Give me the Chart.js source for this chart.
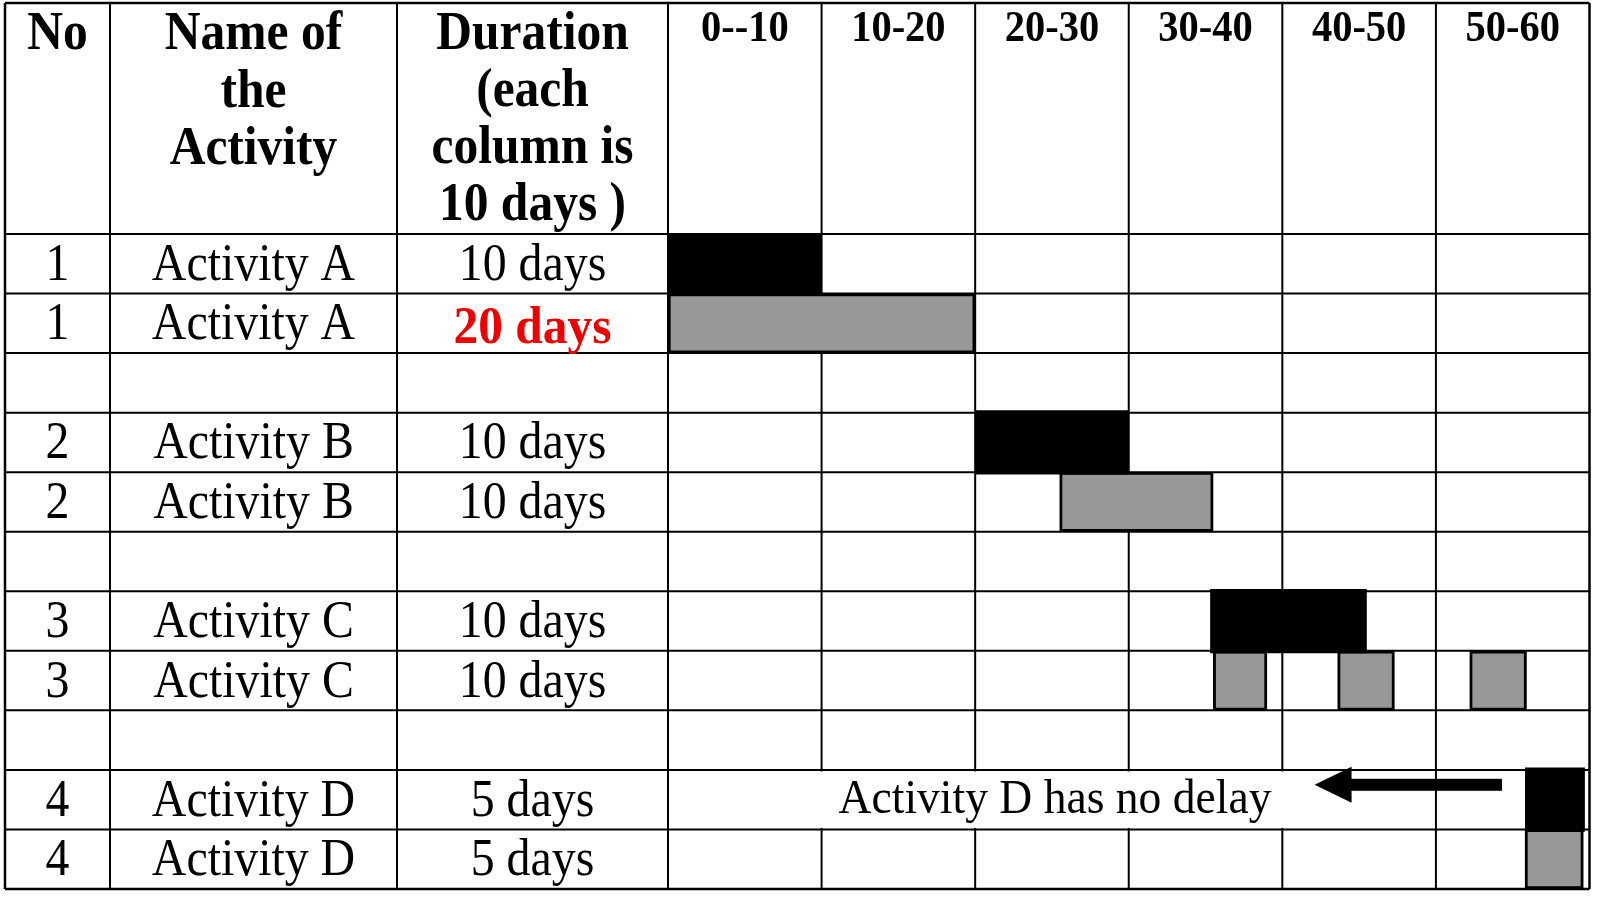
<!DOCTYPE html>
<html>
<head>
<meta charset="utf-8">
<title>Activity delay chart</title>
<script src="https://cdn.jsdelivr.net/npm/chart.js@4.4.0/dist/chart.umd.min.js"></script>
<style>
    html, body { margin: 0; padding: 0; background: #fff; }
    #ganttChart { display: block; }
</style>
</head>
<body>
<canvas id="ganttChart" width="1607" height="906"></canvas>
<script>
// Table rows (one entry per row, empty strings = spacer rows)
const rowNo = ['1', '1', '', '2', '2', '', '3', '3', '', '4', '4'];
const rowName = ['Activity A', 'Activity A', '', 'Activity B', 'Activity B', '', 'Activity C', 'Activity C', '', 'Activity D', 'Activity D'];
const rowDuration = ['10 days', '20 days', '', '10 days', '10 days', '', '10 days', '10 days', '', '5 days', '5 days'];
const delayedRow = 1;

// Time columns (each column is 10 days)
const periodLabels = ['0--10', '10-20', '20-30', '30-40', '40-50', '50-60'];
const periodTicks = [0, 10, 20, 30, 40, 50, 60];

// Planned (black) and actual (grey) spans in days
const planned = [[0, 10], null, null, [20, 30], null, null, [35.3, 45.5], null, null, [55.8, 59.7], null];
const actual = [null, [0, 20], null, null, [25.5, 35.5], null, null, [35.5, 39], null, null, [55.8, 59.6]];
const actualC2 = [null, null, null, null, null, null, null, [43.6, 47.3], null, null, null];
const actualC3 = [null, null, null, null, null, null, null, [52.2, 55.9], null, null, null];

// Note in the Activity D row
const noteText = 'Activity D has no delay';
const noteRow = 9;
const noteAt = 25.2;
const noteBoxTo = 50;
const arrowFrom = 54.3;
const arrowTo = 42.1;

const tableLeft = [5, 110, 397];
const tableTop = 3;
const serif = '"Liberation Serif", "Times New Roman", serif';

function drawText(ctx, txt, x, y, font, sx, color) {
    ctx.save();
    ctx.font = font;
    ctx.fillStyle = color || '#000';
    ctx.textAlign = 'center';
    ctx.textBaseline = 'alphabetic';
    ctx.translate(x, y);
    ctx.scale(sx, 1);
    ctx.fillText(txt, 0, 0);
    ctx.restore();
}

function line(ctx, x1, y1, x2, y2, w) {
    ctx.beginPath();
    ctx.lineWidth = w;
    ctx.moveTo(x1, y1);
    ctx.lineTo(x2, y2);
    ctx.stroke();
}

/**
 * Table grid, drawn under the bars
 */
const tableGrid = {
    id: 'tableGrid',
    beforeDatasetsDraw(chart) {
        const ctx = chart.ctx;
        const xs = chart.scales.x;
        const ys = chart.scales.y;
        const bottom = ys.getPixelForValue(rowNo.length - 0.5);
        const right = xs.getPixelForValue(60);

        ctx.save();
        ctx.strokeStyle = '#000';

        // horizontal lines
        line(ctx, tableLeft[0], tableTop, right, tableTop, 2.5);
        for (let i = 0; i <= rowNo.length; i++) {
            const y = ys.getPixelForValue(i - 0.5);
            line(ctx, tableLeft[0], y, right, y, i === rowNo.length ? 2.5 : 2);
        }

        // vertical lines
        tableLeft.forEach((x, i) => line(ctx, x, tableTop, x, bottom, i === 0 ? 2.5 : 2));
        periodTicks.forEach((t, i) => {
            const x = xs.getPixelForValue(t);
            line(ctx, x, tableTop, x, bottom, i === periodTicks.length - 1 ? 2.5 : 2);
        });

        // white box behind the note
        const top = ys.getPixelForValue(noteRow - 0.5);
        const bot = ys.getPixelForValue(noteRow + 0.5);
        ctx.fillStyle = '#fff';
        ctx.fillRect(xs.getPixelForValue(0) + 1.5, top + 1.5,
            xs.getPixelForValue(noteBoxTo) - xs.getPixelForValue(0) - 3, bot - top - 3);
        ctx.restore();
    },

    afterDatasetsDraw(chart) {
        const ctx = chart.ctx;
        const xs = chart.scales.x;
        const ys = chart.scales.y;
        const bold = s => 'bold ' + s + 'px ' + serif;
        const reg = s => s + 'px ' + serif;

        // header
        const c0 = (tableLeft[0] + tableLeft[1]) / 2;
        const c1 = (tableLeft[1] + tableLeft[2]) / 2;
        const c2 = (tableLeft[2] + xs.getPixelForValue(0)) / 2;
        drawText(ctx, 'No', c0, 49, bold(55), 0.9);
        ['Name of', 'the', 'Activity'].forEach((t, i) => drawText(ctx, t, c1, 49 + i * 57.5, bold(55), 0.9));
        ['Duration', '(each', 'column is', '10 days )'].forEach((t, i) => drawText(ctx, t, c2, 48.5 + i * 57.2, bold(55), 0.9));
        periodLabels.forEach((t, i) => {
            const x = xs.getPixelForValue((periodTicks[i] + periodTicks[i + 1]) / 2);
            drawText(ctx, t, x, 41, bold(45), 0.9);
        });

        // row texts
        rowNo.forEach((no, i) => {
            const y = ys.getPixelForValue(i);
            drawText(ctx, no, c0, y + 16, reg(52), 0.92);
            drawText(ctx, rowName[i], c1, y + 16, reg(52), 0.92);
            if (i === delayedRow) {
                drawText(ctx, rowDuration[i], c2, y + 20, bold(52), 0.95, '#f00000');
            } else {
                drawText(ctx, rowDuration[i], c2, y + 16, reg(52), 0.92);
            }
        });

        // note + arrow
        const ny = ys.getPixelForValue(noteRow);
        drawText(ctx, noteText, xs.getPixelForValue(noteAt), ny + 13, reg(49), 0.93);

        const ay = ys.getPixelForValue(noteRow - 0.25);
        const tip = xs.getPixelForValue(arrowTo);
        const tail = xs.getPixelForValue(arrowFrom);
        ctx.save();
        ctx.fillStyle = '#000';
        ctx.fillRect(tip + 36, ay - 6, tail - tip - 36, 12);
        ctx.beginPath();
        ctx.moveTo(tip, ay);
        ctx.lineTo(tip + 37, ay - 18);
        ctx.lineTo(tip + 37, ay + 18);
        ctx.closePath();
        ctx.fill();
        ctx.restore();
    }
};

function buildChart() {
    const canvas = document.getElementById('ganttChart');
    const grey = {
        backgroundColor: '#989898',
        borderColor: '#000',
        borderWidth: 3,
        borderSkipped: false,
        barPercentage: 1,
        categoryPercentage: 1,
        grouped: false
    };

    new Chart(canvas.getContext('2d'), {
        type: 'bar',
        data: {
            labels: rowName,
            datasets: [
                { label: 'Planned', data: planned, backgroundColor: '#000', borderWidth: 0,
                  barPercentage: 1.08, categoryPercentage: 1, grouped: false },
                Object.assign({ label: 'Actual', data: actual }, grey),
                Object.assign({ label: 'Actual C2', data: actualC2 }, grey),
                Object.assign({ label: 'Actual C3', data: actualC3 }, grey)
            ]
        },
        options: {
            indexAxis: 'y',
            responsive: false,
            animation: false,
            devicePixelRatio: 1,
            layout: { padding: { left: 668, right: 17.5, top: 234, bottom: 17 } },
            plugins: { legend: { display: false }, tooltip: { enabled: false } },
            scales: {
                x: { type: 'linear', min: 0, max: 60, display: false },
                y: { type: 'category', offset: true, display: false }
            }
        },
        plugins: [tableGrid]
    });
}

buildChart();
</script>
</body>
</html>
